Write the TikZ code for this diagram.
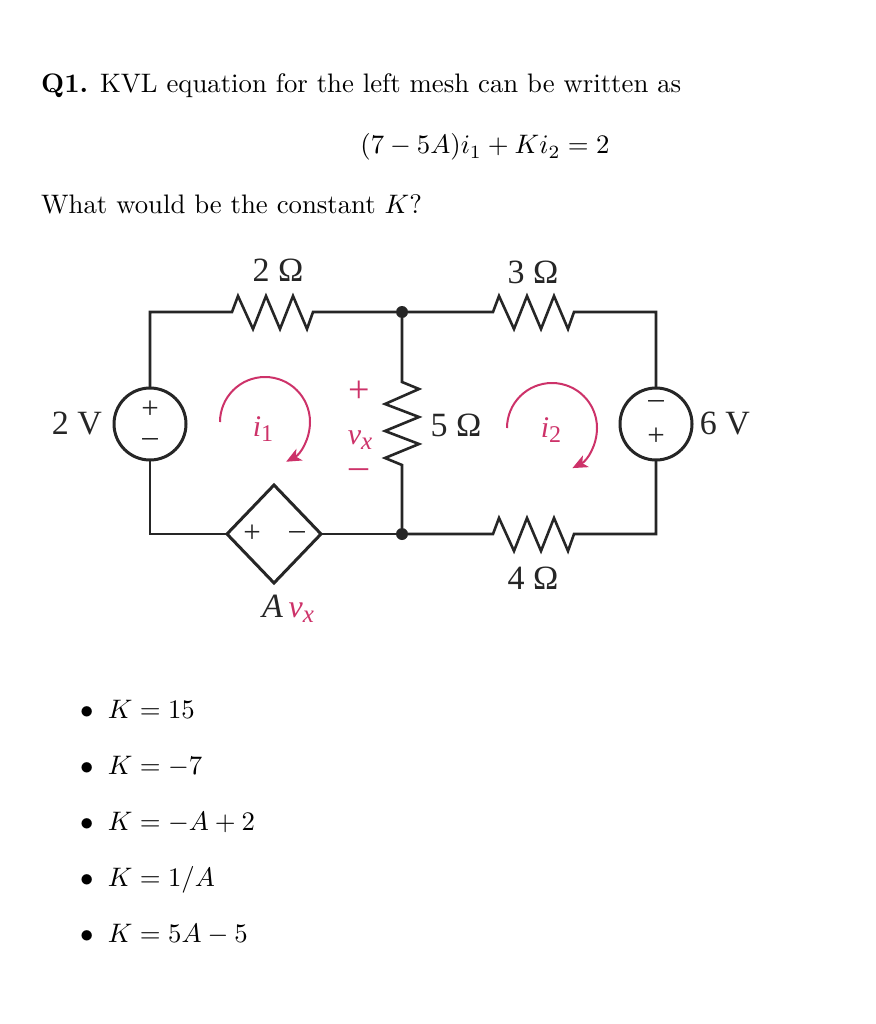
\documentclass[tikz,border=0pt]{standalone}
\usepackage{fontspec}
\usepackage{graphicx}
\usetikzlibrary{shapes.geometric,arrows.meta}
\newfontfamily\circfont{Liberation Serif}
\definecolor{pinkc}{RGB}{205,50,105}
\definecolor{inkc}{RGB}{38,38,38}
\newcommand{\tscale}[1]{\scalebox{2.675}{\fontsize{10}{12}\selectfont #1}}
\tikzset{
 wire/.style={line width=2.6pt,draw=inkc,line join=miter},
 txt/.style={anchor=base west,inner sep=0pt,text=black},
 lab/.style={inner sep=0pt,font=\circfont\fontsize{34}{36}\selectfont,text=inkc},
 sgn/.style={inner sep=0pt,font=\circfont\fontsize{31}{33}\selectfont,text=inkc},
 psgn/.style={inner sep=0pt,font=\circfont\fontsize{38}{40}\selectfont,text=pinkc},
 pvar/.style={inner sep=0pt,font=\circfont\itshape\fontsize{30}{32}\selectfont,text=pinkc},
 src/.style={circle,draw=inkc,line width=3pt,minimum size=72pt,inner sep=0pt,outer sep=0pt},
 dep/.style={diamond,draw=inkc,line width=3pt,minimum width=94pt,minimum height=98pt,inner sep=0pt,outer sep=0pt,aspect=1},
 dot/.style={circle,fill=inkc,minimum size=12pt,inner sep=0pt},
 loopa/.style={line width=2pt,draw=pinkc,-{Stealth[length=15pt,width=13pt,inset=4pt,fill=pinkc]}}
}
\begin{document}
\begin{tikzpicture}[x=1pt,y=-1pt]
\useasboundingbox[fill=white] (0,0) rectangle (875,1024);
% text
\node[txt] (q) at (41,93) {\tscale{\textbf{Q1.} KVL equation for the left mesh can be written as}};
\node[inner sep=0pt,anchor=base] (eq) at (485,154) {\tscale{$(7-5A)i_1+Ki_2=2$}};
\node[txt] (w) at (41,214) {\tscale{What would be the constant $K$?}};
% corners and junctions
\coordinate (tl) at (150,312);
\coordinate (bl) at (150,534);
\coordinate (tr) at (656,312);
\coordinate (br) at (656,534);
\node[dot] (jt) at (402,312) {};
\node[dot] (jb) at (402,534) {};
\node[src] (s1) at (150,424) {};
\node[src] (s2) at (656,424) {};
\node[dep] (d) at (274,534) {};
% wires
\draw[wire] (s1) -- (tl) -- ++(82,0) coordinate (r2a)
  -- ++(6,-16) -- ++(15,33) -- ++(13,-33) -- ++(14,33) -- ++(13,-33) -- ++(14,33) -- ++(6,-17) coordinate (r2b) -- (jt);
\draw[wire] (jt) -- ++(91,0) coordinate (r3a)
  -- ++(6,-16) -- ++(15,33) -- ++(13,-33) -- ++(14,33) -- ++(13,-33) -- ++(14,33) -- ++(6,-17) coordinate (r3b) -- (tr) -- (s2);
\draw[wire] (s2) -- (br) -- ++(-82,0) coordinate (r4b)
  -- ++(-6,17) -- ++(-14,-33) -- ++(-13,33) -- ++(-14,-33) -- ++(-13,33) -- ++(-15,-33) -- ++(-6,16) coordinate (r4a) -- (jb);
\draw[wire] (s1) -- (bl) -- (d.west);
\draw[wire] (d.east) -- (jb);
\draw[wire] (jt) -- ++(0,70) coordinate (r5a)
  -- ++(17,7) -- ++(-34,15) -- ++(34,13) -- ++(-34,14) -- ++(34,13) -- ++(-34,14) -- ++(17,7) coordinate (r5b) -- (jb);
% circuit labels
\node[lab] (l2) at (278,270) {2 Ω};
\node[lab] (l3) at (533,272) {3 Ω};
\node[lab] (l4) at (533,578) {4 Ω};
\node[lab] (l5) at (456,425) {5 Ω};
\node[lab] (v2) at (77,423) {2 V};
\node[lab] (v6) at (725,423) {6 V};
% source signs
\node[sgn] (p1) at (150,410) {+};
\node[sgn] (m1) at (150,443) {–};
\node[sgn] (m2) at (656,405) {–};
\node[sgn] (p2) at (656,437) {+};
\node[sgn] (p3) at (252,534) {+};
\node[sgn] (m3) at (297,535) {–};
% controlling voltage
\node[psgn] (vp) at (359,392) {+};
\node[pvar,anchor=base] (vx) at (360,444) {v\raisebox{-5pt}{\fontsize{25}{26}\selectfont x}};
\node[psgn] (vm) at (359,474) {–};
% dependent source label
\node[inner sep=0pt,anchor=base,font=\circfont\itshape\fontsize{34}{36}\selectfont,text=inkc] (av) at (288,617) {A\,\textcolor{pinkc}{\fontsize{32}{34}\selectfont v\raisebox{-5pt}{\fontsize{25}{26}\selectfont x}}};
% mesh currents
\draw[loopa] (220,422) arc[start angle=180,end angle=422,radius=45];
\draw[loopa] (507,428) arc[start angle=180,end angle=423,radius=45];
\node[pvar,anchor=base] (i1) at (263,436) {i\raisebox{-5pt}{\upshape\fontsize{24}{26}\selectfont 1}};
\node[pvar,anchor=base] (i2) at (551,437) {i\raisebox{-5pt}{\upshape\fontsize{24}{26}\selectfont 2}};
% options
\node[txt] (b1) at (80,718) {\tscale{$\bullet$\hspace{2pt} $K=15$}};
\node[txt] (b2) at (80,774) {\tscale{$\bullet$\hspace{2pt} $K=-7$}};
\node[txt] (b3) at (80,830) {\tscale{$\bullet$\hspace{2pt} $K=-A+2$}};
\node[txt] (b4) at (80,886) {\tscale{$\bullet$\hspace{2pt} $K=1/A$}};
\node[txt] (b5) at (80,942) {\tscale{$\bullet$\hspace{2pt} $K=5A-5$}};
\end{tikzpicture}
\end{document}
